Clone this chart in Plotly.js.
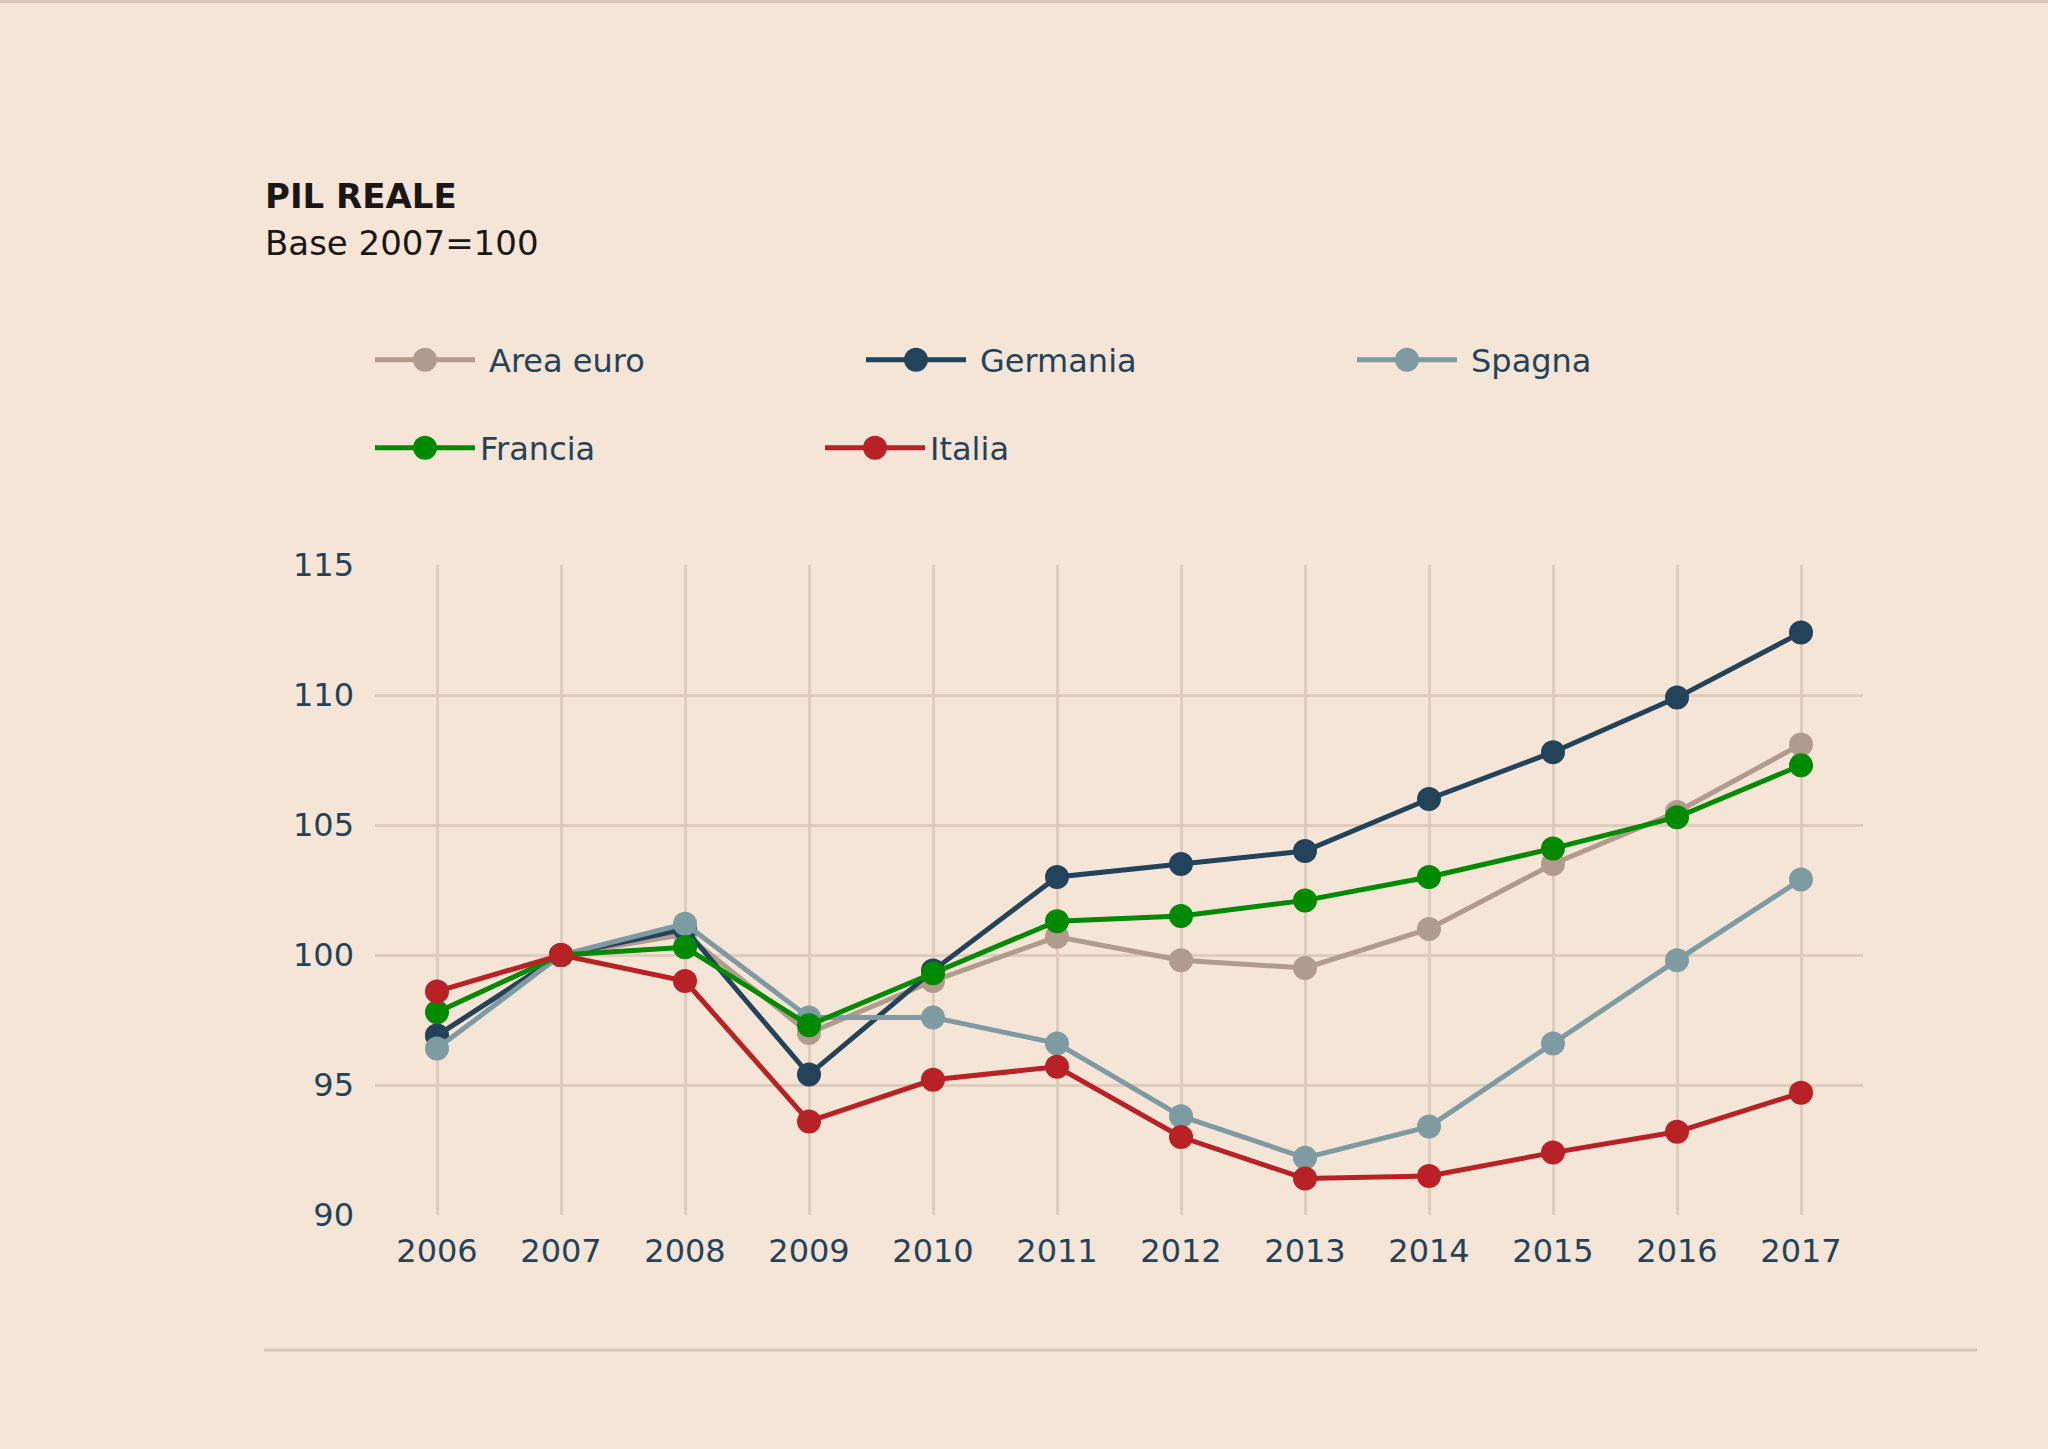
<!DOCTYPE html>
<html>
<head>
<meta charset="utf-8">
<script src="https://cdn.plot.ly/plotly-3.0.1.min.js"></script>
<style>
  html, body { margin: 0; padding: 0; background: #f5e5d6; }
  #chart { width: 2048px; height: 1449px; }
</style>
</head>
<body>
<div id="chart"></div>
<script>
// Real GDP, index 2007 = 100
const years = [2006, 2007, 2008, 2009, 2010, 2011, 2012, 2013, 2014, 2015, 2016, 2017];

const areaEuro = [96.9, 100, 100.8, 97.0, 99.0, 100.7, 99.8, 99.5, 101.0, 103.5, 105.5, 108.1];
const germania = [96.9, 100, 101.0, 95.4, 99.4, 103.0, 103.5, 104.0, 106.0, 107.8, 109.9, 112.4];
const spagna   = [96.4, 100, 101.2, 97.6, 97.6, 96.6, 93.8, 92.2, 93.4, 96.6, 99.8, 102.9];
const francia  = [97.8, 100, 100.3, 97.3, 99.3, 101.3, 101.5, 102.1, 103.0, 104.1, 105.3, 107.3];
const italia   = [98.6, 100, 99.0, 93.6, 95.2, 95.7, 93.0, 91.4, 91.5, 92.4, 93.2, 94.7];

const yTicks = [90, 95, 100, 105, 110, 115];

const series = [
  { name: 'Area euro', values: areaEuro, color: '#b09c8c', legend: 'legend' },
  { name: 'Germania',  values: germania, color: '#22435a', legend: 'legend' },
  { name: 'Spagna',    values: spagna,   color: '#7f9ba2', legend: 'legend' },
  { name: 'Francia',   values: francia,  color: '#008a00', legend: 'legend2' },
  { name: 'Italia',    values: italia,   color: '#b82226', legend: 'legend2' }
];

const MARKER_SIZE = 24;

const traces = series.map(s => ({
  type: 'scatter',
  mode: 'lines+markers',
  name: s.name,
  x: years,
  y: s.values,
  legend: s.legend,
  line: { color: s.color, width: 5 },
  marker: { color: s.color, size: MARKER_SIZE },
  hoverinfo: 'x+y+name'
}));

// Page geometry in pixels
const W = 2048, H = 1449;
const M = { l: 375, r: 185, t: 565, b: 234 };
const plotW = W - M.l - M.r;
const plotH = H - M.t - M.b;
const px = x => (x - M.l) / plotW;           // page x -> paper x
const py = y => (H - M.b - y) / plotH;        // page y -> paper y

const textColor = '#24435a';
const gridColor = '#decdbc';
const font = '"DejaVu Sans", Verdana, sans-serif';

const legendCommon = {
  orientation: 'h',
  xanchor: 'left',
  yanchor: 'middle',
  bgcolor: 'rgba(0,0,0,0)',
  borderwidth: 0,
  itemwidth: 100,
  itemclick: false,
  itemdoubleclick: false,
  font: { family: font, size: 32, color: textColor }
};

const layout = {
  width: W,
  height: H,
  margin: M,
  paper_bgcolor: '#f5e5d6',
  plot_bgcolor: '#f5e5d6',
  font: { family: font, color: textColor },
  showlegend: true,
  legend: Object.assign({}, legendCommon, { x: px(370), y: py(360), entrywidth: 376 }),
  legend2: Object.assign({}, legendCommon, { x: px(370), y: py(448), entrywidth: 335 }),
  xaxis: {
    range: [2005.5, 2017.5],
    tickvals: years,
    ticktext: years.map(String),
    showgrid: true,
    gridcolor: gridColor,
    gridwidth: 2.5,
    zeroline: false,
    showline: false,
    ticks: '',
    ticklabelstandoff: 14,
    tickfont: { family: font, size: 32, color: textColor },
    fixedrange: true
  },
  yaxis: {
    range: [90, 115],
    tickvals: yTicks,
    ticktext: yTicks.map(String),
    showgrid: true,
    gridcolor: gridColor,
    gridwidth: 2.5,
    zeroline: false,
    showline: false,
    ticks: '',
    ticklabelstandoff: 20,
    tickfont: { family: font, size: 32, color: textColor },
    fixedrange: true
  },
  annotations: [
    {
      text: '<b>PIL REALE</b>',
      xref: 'paper', yref: 'paper',
      x: px(263), y: py(196),
      xanchor: 'left', yanchor: 'middle',
      showarrow: false,
      font: { family: font, size: 34, color: '#1a1718' }
    },
    {
      text: 'Base 2007=100',
      xref: 'paper', yref: 'paper',
      x: px(263), y: py(243),
      xanchor: 'left', yanchor: 'middle',
      showarrow: false,
      font: { family: font, size: 34, color: '#1a1718' }
    }
  ],
  shapes: [
    {
      type: 'line', xref: 'paper', yref: 'paper',
      x0: px(0), x1: px(W), y0: py(1.5), y1: py(1.5),
      line: { color: '#d8c7b6', width: 3 }
    },
    {
      type: 'line', xref: 'paper', yref: 'paper',
      x0: px(264), x1: px(1977), y0: py(1350), y1: py(1350),
      line: { color: '#d6c5b4', width: 3 }
    }
  ]
};

// Legend symbols are capped in size by the library; enlarge them to the
// plotted marker size and leave a little more room before the labels.
// The second legend is drawn asynchronously, so this runs whenever new
// nodes appear; it is idempotent.
function tuneLegend(gd) {
  gd.querySelectorAll('g.legendpoints path.scatterpts').forEach(p => {
    const t = p.getAttribute('transform') || '';
    if (t.indexOf('scale') === -1) {
      p.setAttribute('transform', t + ' scale(' + (MARKER_SIZE / 16) + ')');
    }
  });
  gd.querySelectorAll('text.legendtext').forEach(el => {
    if (el.getAttribute('transform') !== 'translate(9,0)') {
      el.setAttribute('transform', 'translate(9,0)');
    }
  });
}

const gd = document.getElementById('chart');
new MutationObserver(() => tuneLegend(gd)).observe(gd, { childList: true, subtree: true });
Plotly.newPlot(gd, traces, layout, { displayModeBar: false }).then(() => {
  tuneLegend(gd);
  gd.on('plotly_afterplot', () => tuneLegend(gd));
});
</script>
</body>
</html>
